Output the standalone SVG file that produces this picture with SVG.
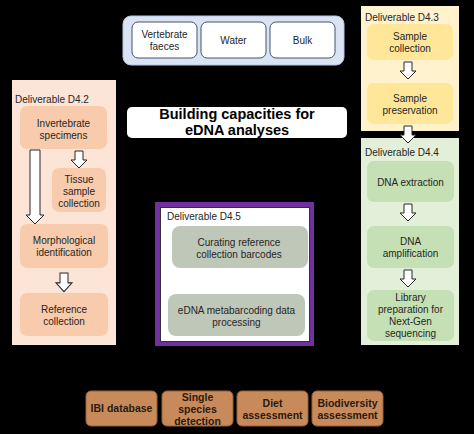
<svg xmlns="http://www.w3.org/2000/svg" width="474" height="434" viewBox="0 0 474 434">
<defs>
<style>
text{font-family:"Liberation Sans",Arial,sans-serif;fill:#262626;text-anchor:middle;font-size:10px}
.lbl{text-anchor:start;font-size:10px;fill:#262626}
.title{font-size:14.5px;font-weight:bold;fill:#000}
.out{font-size:10.5px;font-weight:bold;fill:#2a1a0e}
.src{fill:#fff;stroke:#44546a;stroke-width:1}
.p42{fill:#fce4d6}.b42{fill:#f8cbad}
.p43{fill:#fff2cc}.b43{fill:#ffe699}
.p44{fill:#e2efd9}.b44{fill:#c5e0b4}
.b45{fill:#bfc7b8}
.outb{fill:#c88a5b;stroke:#9a5f35;stroke-width:1}
.arr{fill:#fff;stroke:#262626;stroke-width:1}
</style>
<path id="darr" d="M-4,0 H4 V9 H8 L0,17 L-8,9 H-4 Z"/>
</defs>
<rect x="0" y="0" width="474" height="434" fill="#000"/>

<g id="sources">
<rect x="123" y="16" width="221" height="49" rx="8" fill="#dae3f3" stroke="#b4c7e7"/>
<g id="n-faeces"><rect class="src" x="132" y="22" width="65" height="36" rx="6"/><text x="164.5" y="38">Vertebrate</text><text x="164.5" y="50">faeces</text></g>
<g id="n-water"><rect class="src" x="201" y="22" width="65" height="36" rx="6"/><text x="233.5" y="44">Water</text></g>
<g id="n-bulk"><rect class="src" x="270" y="22" width="65" height="36" rx="6"/><text x="302.5" y="44">Bulk</text></g>
</g>

<g id="n-title">
<rect x="127" y="107" width="220" height="31" rx="5" fill="#fff"/>
<text class="title" x="237" y="119">Building capacities for</text>
<text class="title" x="237" y="134.5">eDNA analyses</text>
</g>

<g id="d42">
<rect class="p42" x="12" y="80" width="104" height="265"/>
<text class="lbl" x="15" y="102.5">Deliverable D4.2</text>
<g id="n-invert"><rect class="b42" x="20" y="106" width="87" height="43" rx="7"/><text x="63.5" y="126.5">Invertebrate</text><text x="63.5" y="138.5">specimens</text></g>
<g id="n-tissue"><rect class="b42" x="52" y="168" width="54" height="44" rx="7"/><text x="79" y="182.5">Tissue</text><text x="79" y="194.5">sample</text><text x="79" y="206.5">collection</text></g>
<g id="n-morph"><rect class="b42" x="20" y="224" width="88" height="44" rx="7"/><text x="64" y="243.5">Morphological</text><text x="64" y="255.5">identification</text></g>
<g id="n-ref"><rect class="b42" x="20" y="293" width="88" height="43" rx="7"/><text x="64" y="312.5">Reference</text><text x="64" y="324.5">collection</text></g>
</g>

<g id="d43">
<rect class="p43" x="361" y="6" width="98" height="125"/>
<text class="lbl" x="365" y="20.5">Deliverable D4.3</text>
<g id="n-samplecol"><rect class="b43" x="367" y="24" width="86" height="36" rx="7"/><text x="410" y="39.5">Sample</text><text x="410" y="51.5">collection</text></g>
<g id="n-samplepres"><rect class="b43" x="367" y="83" width="86" height="41" rx="7"/><text x="410" y="101.5">Sample</text><text x="410" y="113.5">preservation</text></g>
</g>

<g id="d44">
<rect class="p44" x="361" y="138" width="98" height="207"/>
<text class="lbl" x="365" y="155.5">Deliverable D4.4</text>
<g id="n-extract"><rect class="b44" x="367" y="161" width="87" height="41" rx="7"/><text x="410.5" y="185.5">DNA extraction</text></g>
<g id="n-amp"><rect class="b44" x="367" y="226" width="87" height="42" rx="7"/><text x="410.5" y="244.5">DNA</text><text x="410.5" y="256.5">amplification</text></g>
<g id="n-lib"><rect class="b44" x="367" y="290" width="87" height="51" rx="7"/><text x="410.5" y="300.5">Library</text><text x="410.5" y="312.5">preparation for</text><text x="410.5" y="324.5">Next-Gen</text><text x="410.5" y="336.5">sequencing</text></g>
</g>

<g id="d45">
<rect x="157.5" y="204.5" width="154" height="139" fill="#7030a0" stroke="#7030a0" stroke-width="5"/>
<rect x="160.5" y="207.5" width="149" height="134" fill="#fff" stroke="#333" stroke-width="1"/>
<text class="lbl" x="167" y="219.5">Deliverable D4.5</text>
<g id="n-curate"><rect class="b45" x="172" y="226" width="136" height="42" rx="8"/><text x="239" y="245.5">Curating reference</text><text x="239" y="257.5">collection barcodes</text></g>
<g id="n-edna"><rect class="b45" x="168" y="294" width="137" height="42" rx="8"/><text x="236.5" y="313.5">eDNA metabarcoding data</text><text x="236.5" y="325.5">processing</text></g>
</g>

<g id="outputs">
<g id="n-ibi"><rect class="outb" x="86" y="391" width="71" height="35" rx="5"/><text class="out" x="121.5" y="412">IBI database</text></g>
<g id="n-single"><rect class="outb" x="162" y="391" width="71" height="35" rx="5"/><text class="out" x="197.5" y="400.5">Single</text><text class="out" x="197.5" y="412.5">species</text><text class="out" x="197.5" y="424.5">detection</text></g>
<g id="n-diet"><rect class="outb" x="237" y="391" width="71" height="35" rx="5"/><text class="out" x="272.5" y="406.5">Diet</text><text class="out" x="272.5" y="418.5">assessment</text></g>
<g id="n-biodiv"><rect class="outb" x="312" y="391" width="71" height="35" rx="5"/><text class="out" x="347.5" y="406.5">Biodiversity</text><text class="out" x="347.5" y="418.5">assessment</text></g>
</g>

<g id="connectors">
<use href="#darr" class="arr" transform="translate(79,151)"/>
<path class="arr" d="M30,150 H40 V215 H44 L35,224 L26,215 H30 Z"/>
<use href="#darr" class="arr" transform="translate(64,273) scale(1,1.1)"/>
<use href="#darr" class="arr" transform="translate(408,62)"/>
<use href="#darr" class="arr" transform="translate(408,126)"/>
<use href="#darr" class="arr" transform="translate(408,204)"/>
<use href="#darr" class="arr" transform="translate(408,270)"/>
</g>
</svg>
